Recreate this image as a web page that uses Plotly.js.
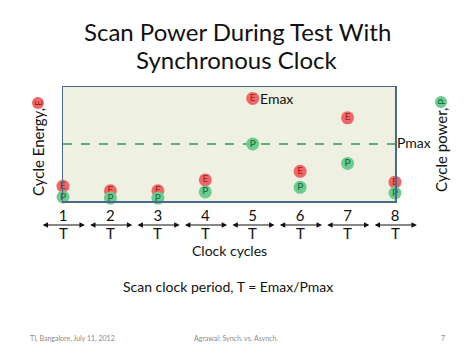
<!DOCTYPE html>
<html>
<head>
<meta charset="utf-8">
<script src="https://cdn.plot.ly/plotly-3.0.1.min.js"></script>
<style>html,body{margin:0;padding:0;background:#fff;}#chart{width:474px;height:355px;}</style>
</head>
<body>
<div id="chart"></div>
<script>
const cycles = [1, 2, 3, 4, 5, 6, 7, 8];
const energy = [1.3, 0.9, 0.9, 1.85, 9.0, 2.6, 7.3, 1.65];
const power = [0.35, 0.26, 0.26, 0.8, 5.0, 1.2, 3.3, 0.7];
const pmax = 5.0;
const tickLabels = ['1', '2', '3', '4', '5', '6', '7', '8'];
const periodLabel = 'T';

const FONT = 'Lato, "Open Sans", sans-serif';
const redFill = '#ee6767';
const redText = '#b01818';
const greenFill = '#6ccb8e';
const greenText = '#17653a';

// plot area in pixels (margins)
const L = 63, R = 395, T = 87, B = 201;
const px2x = px => (px - L) / (R - L);
const py2y = py => (B - py) / (B - T);

const traces = [
  {
    x: cycles, y: energy, type: 'scatter', mode: 'markers+text',
    text: energy.map(() => 'E'), textposition: 'middle center',
    textfont: {family: FONT, size: 10, color: redText},
    marker: {size: 13, color: redFill}, cliponaxis: false, hoverinfo: 'none'
  },
  {
    x: cycles, y: power, type: 'scatter', mode: 'markers+text',
    text: power.map(() => 'P'), textposition: 'middle center',
    textfont: {family: FONT, size: 10, color: greenText},
    marker: {size: 13, color: greenFill}, cliponaxis: false, hoverinfo: 'none'
  }
];

const annotations = [];
const shapes = [];
shapes.push({type: 'line', xref: 'paper', x0: 0, x1: 1, yref: 'y', y0: pmax, y1: pmax,
  line: {color: '#2e9a58', width: 1.5, dash: 'dash'}, layer: 'below'});

cycles.forEach(c => {
  annotations.push({x: c + 0.46, y: py2y(225), xref: 'x', yref: 'paper',
    ax: c - 0.46, axref: 'x', ay: 0, ayref: 'pixel', text: '', showarrow: true,
    arrowhead: 2, arrowside: 'end+start', arrowsize: 0.9, arrowwidth: 1.2, arrowcolor: '#111'});
  annotations.push({x: c, y: py2y(233), xref: 'x', yref: 'paper', text: periodLabel, showarrow: false,
    font: {family: FONT, size: 15, color: '#111'}, yanchor: 'middle'});
});

annotations.push({x: 5, y: energy[4], xref: 'x', yref: 'y', text: 'Emax', showarrow: false,
  xanchor: 'left', xshift: 5, font: {family: FONT, size: 14, color: '#111'}});
annotations.push({x: 1, y: pmax, xref: 'paper', yref: 'y', text: 'Pmax', showarrow: false,
  xanchor: 'left', xshift: 0, yshift: 2, font: {family: FONT, size: 14, color: '#111'}});

annotations.push({x: px2x(229), y: py2y(250), xref: 'paper', yref: 'paper', text: 'Clock cycles', showarrow: false,
  font: {family: FONT, size: 14, color: '#111'}, yanchor: 'middle'});
annotations.push({x: px2x(228), y: py2y(286), xref: 'paper', yref: 'paper', text: 'Scan clock period, T = Emax/Pmax',
  showarrow: false, font: {family: FONT, size: 14, color: '#111'}, yanchor: 'middle'});

// title lines
annotations.push({x: px2x(237), y: py2y(31), xref: 'paper', yref: 'paper', text: 'Scan Power During Test With',
  showarrow: false, font: {family: FONT, size: 24, color: '#111'}, yanchor: 'middle'});
annotations.push({x: px2x(237), y: py2y(60), xref: 'paper', yref: 'paper', text: 'Synchronous Clock',
  showarrow: false, font: {family: FONT, size: 24, color: '#111'}, yanchor: 'middle'});

annotations.push({x: px2x(38), y: py2y(152), xref: 'paper', yref: 'paper', text: 'Cycle Energy,', textangle: -90,
  showarrow: false, font: {family: FONT, size: 15, color: '#111'}, xanchor: 'center', yanchor: 'middle'});
annotations.push({x: px2x(441), y: py2y(150), xref: 'paper', yref: 'paper', text: 'Cycle power,', textangle: -90,
  showarrow: false, font: {family: FONT, size: 15, color: '#111'}, xanchor: 'center', yanchor: 'middle'});

function circleBadge(px, py, fill, letter, color) {
  shapes.push({type: 'circle', xref: 'paper', yref: 'paper', xsizemode: 'pixel', ysizemode: 'pixel',
    xanchor: px2x(px), yanchor: py2y(py), x0: -6, x1: 6, y0: -6, y1: 6,
    fillcolor: fill, line: {width: 0}});
  annotations.push({x: px2x(px), y: py2y(py), xref: 'paper', yref: 'paper', text: letter, textangle: -90,
    showarrow: false, font: {family: FONT, size: 10, color: color}, xanchor: 'center', yanchor: 'middle'});
}
circleBadge(38, 103, redFill, 'E', redText);
circleBadge(441, 102, greenFill, 'P', greenText);

const footFont = {family: FONT, size: 7, color: '#8a8a8a'};
annotations.push({x: px2x(28), y: py2y(338), xref: 'paper', yref: 'paper', text: 'TI, Bangalore, July 11, 2012',
  showarrow: false, xanchor: 'left', yanchor: 'middle', font: footFont});
annotations.push({x: px2x(236), y: py2y(338), xref: 'paper', yref: 'paper', text: 'Agrawal: Synch. vs. Asynch.',
  showarrow: false, xanchor: 'center', yanchor: 'middle', font: footFont});
annotations.push({x: px2x(443), y: py2y(338), xref: 'paper', yref: 'paper', text: '7',
  showarrow: false, xanchor: 'center', yanchor: 'middle', font: footFont});

const layout = {
  width: 474, height: 355,
  margin: {l: L, r: 474 - R, t: T, b: 355 - B, pad: 0},
  paper_bgcolor: '#ffffff',
  plot_bgcolor: '#eef0e1',
  showlegend: false,
  xaxis: {range: [1, 8], tickvals: cycles, ticktext: tickLabels, showgrid: false, zeroline: false,
    showline: true, mirror: true, linecolor: '#4a6a8a', linewidth: 1.5, ticks: '',
    tickfont: {family: FONT, size: 15, color: '#111'}, fixedrange: true},
  yaxis: {range: [0, 10], showticklabels: false, showgrid: false, zeroline: false,
    showline: true, mirror: true, linecolor: '#4a6a8a', linewidth: 1.5, ticks: '', fixedrange: true},
  shapes: shapes,
  annotations: annotations
};

Plotly.newPlot('chart', traces, layout, {displayModeBar: false, staticPlot: true});
</script>
</body>
</html>
